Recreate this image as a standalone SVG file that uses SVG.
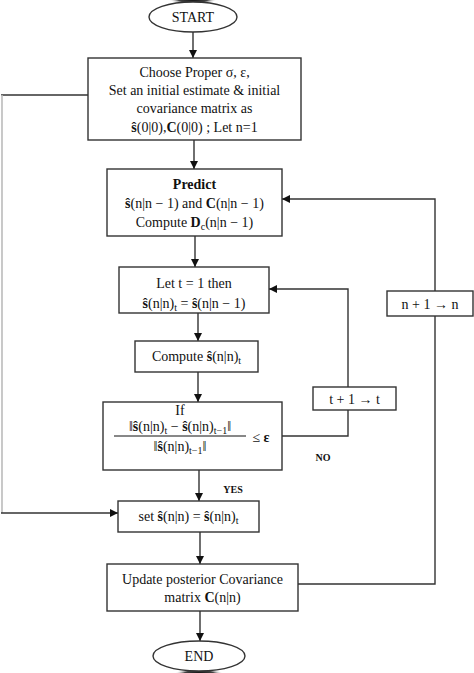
<svg xmlns="http://www.w3.org/2000/svg" width="474" height="673" viewBox="0 0 474 673">
<style>
.box{fill:#fff;stroke:#333;stroke-width:1.4}
.ln{fill:none;stroke:#333;stroke-width:1.4}
.t{font-family:"Liberation Serif","Times New Roman",serif;font-size:14px;fill:#111;text-anchor:middle}
.b{font-weight:bold}
.lbl{font-family:"Liberation Serif","Times New Roman",serif;font-size:10px;font-weight:bold;fill:#111;text-anchor:middle}
</style>
<defs>
<marker id="ah" viewBox="0 0 10 10" refX="10" refY="5" markerWidth="8" markerHeight="8" markerUnits="userSpaceOnUse" orient="auto">
<path d="M0,0 L10,5 L0,10 z" fill="#111"/>
</marker>
<radialGradient id="blob" cx="0.5" cy="0.5" r="0.5">
<stop offset="0" stop-color="#111"/>
<stop offset="0.6" stop-color="#444"/>
<stop offset="1" stop-color="#fff" stop-opacity="0"/>
</radialGradient>
</defs>
<ellipse cx="193" cy="0" rx="24" ry="4" fill="url(#blob)"/>
<ellipse cx="199" cy="673" rx="24" ry="4" fill="url(#blob)"/>
<g id="connectors">
<line class="ln" x1="193" y1="32" x2="193" y2="58" marker-end="url(#ah)"/>
<line class="ln" x1="194" y1="140" x2="194" y2="169" marker-end="url(#ah)"/>
<line class="ln" x1="195" y1="236" x2="195" y2="267" marker-end="url(#ah)"/>
<line class="ln" x1="198" y1="313" x2="198" y2="341" marker-end="url(#ah)"/>
<line class="ln" x1="198" y1="372" x2="198" y2="402" marker-end="url(#ah)"/>
<line class="ln" x1="199" y1="470" x2="199" y2="501" marker-end="url(#ah)"/>
<line class="ln" x1="200" y1="532" x2="200" y2="564" marker-end="url(#ah)"/>
<line class="ln" x1="200" y1="611" x2="200" y2="641" marker-end="url(#ah)"/>
<polyline class="ln" points="88,95 1,95"/>
<line x1="2" y1="95" x2="2" y2="513" stroke="#bbb" stroke-width="1.6"/>
<polyline class="ln" points="1,513 118,513" marker-end="url(#ah)"/>
<polyline class="ln" points="282,436 348,436 348,410"/>
<polyline class="ln" points="348,387 348,289 269,289" marker-end="url(#ah)"/>
<polyline class="ln" points="298,584 435,584 435,316"/>
<polyline class="ln" points="435,291 435,199 282,199" marker-end="url(#ah)"/>
<text class="lbl" x="323" y="461">NO</text>
<text class="lbl" x="233" y="493">YES</text>
</g>
<g id="start">
<ellipse class="box" cx="193" cy="17" rx="44" ry="15"/>
<text class="t" x="193" y="22">START</text>
</g>
<g id="init">
<rect class="box" x="88" y="58" width="213" height="82"/>
<text class="t" x="194.5" y="77">Choose Proper σ, ε,</text>
<text class="t" x="194.5" y="95">Set an initial estimate &amp; initial</text>
<text class="t" x="194.5" y="113">covariance matrix as</text>
<text class="t" x="194.5" y="132"><tspan class="b">ŝ</tspan>(0|0),<tspan class="b">C</tspan>(0|0) ; Let n=1</text>
</g>
<g id="predict">
<rect class="box" x="107" y="169" width="175" height="67"/>
<text class="t b" x="194.5" y="189">Predict</text>
<text class="t" x="194.5" y="208"><tspan class="b">ŝ</tspan>(n|n − 1) and <tspan class="b">C</tspan>(n|n − 1)</text>
<text class="t" x="194.5" y="227">Compute <tspan class="b">D</tspan><tspan dy="3" font-size="10">c</tspan><tspan dy="-3">(n|n − 1)</tspan></text>
</g>
<g id="init-t">
<rect class="box" x="119" y="267" width="150" height="46"/>
<text class="t" x="194" y="288">Let t = 1 then</text>
<text class="t" x="194" y="308"><tspan class="b">ŝ</tspan>(n|n)<tspan dy="3" font-size="10">t</tspan><tspan dy="-3"> = </tspan><tspan class="b">ŝ</tspan>(n|n − 1)</text>
</g>
<g id="compute">
<rect class="box" x="135" y="341" width="123" height="31"/>
<text class="t" x="196.5" y="361">Compute  <tspan class="b">ŝ</tspan>(n|n)<tspan dy="3" font-size="10">t</tspan></text>
</g>
<g id="decision">
<rect class="box" x="103" y="402" width="179" height="68"/>
<text class="t" x="180" y="415" font-size="10">If</text>
<text class="t" x="180" y="431" font-size="14">‖<tspan class="b">ŝ</tspan>(n|n)<tspan dy="3" font-size="10">t</tspan><tspan dy="-3"> − </tspan><tspan class="b">ŝ</tspan>(n|n)<tspan dy="3" font-size="10">t−1</tspan><tspan dy="-3">‖</tspan></text>
<line x1="114" y1="436" x2="246" y2="436" stroke="#111" stroke-width="1"/>
<text class="t" x="180" y="451" font-size="14">‖<tspan class="b">ŝ</tspan>(n|n)<tspan dy="3" font-size="10">t−1</tspan><tspan dy="-3">‖</tspan></text>
<text class="t" x="261" y="442" font-size="14">≤ <tspan class="b">ε</tspan></text>
</g>
<g id="t-inc">
<rect class="box" x="313" y="387" width="83" height="23"/>
<text class="t" x="354.5" y="404">t + 1 → t</text>
</g>
<g id="set">
<rect class="box" x="118" y="501" width="141" height="31"/>
<text class="t" x="188.5" y="521">set  <tspan class="b">ŝ</tspan>(n|n) = <tspan class="b">ŝ</tspan>(n|n)<tspan dy="3" font-size="10">t</tspan></text>
</g>
<g id="update">
<rect class="box" x="107" y="564" width="191" height="47"/>
<text class="t" x="202.5" y="584">Update posterior Covariance</text>
<text class="t" x="202.5" y="602">matrix <tspan class="b">C</tspan>(n|n)</text>
</g>
<g id="n-inc">
<rect class="box" x="387" y="291" width="86" height="25"/>
<text class="t" x="430" y="309">n + 1 → n</text>
</g>
<g id="end">
<ellipse class="box" cx="199" cy="656" rx="46" ry="15"/>
<text class="t" x="199" y="661">END</text>
</g>
</svg>
